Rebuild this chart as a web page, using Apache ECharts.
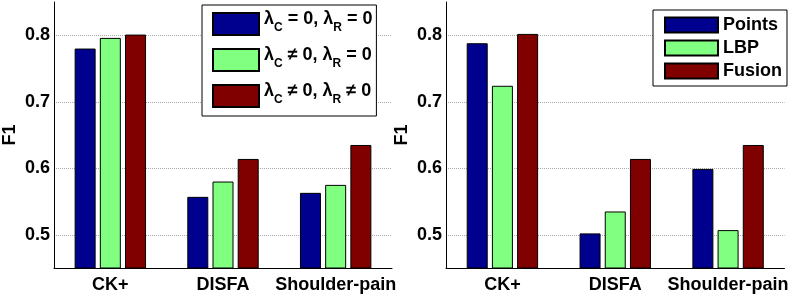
<!DOCTYPE html>
<html>
<head>
<meta charset="utf-8">
<script src="https://cdn.jsdelivr.net/npm/echarts@6/dist/echarts.min.js"></script>
<style>
html, body { margin: 0; padding: 0; background: #fff; }
#chart { width: 791px; height: 294px; }
</style>
</head>
<body>
<div id="chart"></div>
<script>
// data
var categories = ['CK+', 'DISFA', 'Shoulder-pain'];
var yTicks = [0.5, 0.6, 0.7, 0.8];

// left panel: regularisation settings
var leftNames = ['lc0_lr0', 'lcN_lr0', 'lcN_lrN'];
var regNone = [0.780, 0.557, 0.563];
var regC = [0.796, 0.580, 0.575];
var regBoth = [0.801, 0.614, 0.635];

// right panel: feature types
var rightNames = ['Points', 'LBP', 'Fusion'];
var points = [0.788, 0.502, 0.599];
var lbp = [0.724, 0.535, 0.507];
var fusion = [0.802, 0.614, 0.635];

var colors = ['#00008f', '#80ff80', '#800000'];
var font = "'Liberation Sans', Arial, sans-serif";

// legend texts with subscripts
var leftLabels = {
    lc0_lr0: '{m|\u03bb}{s|C}{m| = 0, \u03bb}{s|R}{m| = 0}',
    lcN_lr0: '{m|\u03bb}{s|C}{m| \u2260 0, \u03bb}{s|R}{m| = 0}',
    lcN_lrN: '{m|\u03bb}{s|C}{m| \u2260 0, \u03bb}{s|R}{m| \u2260 0}'
};

function xAxisFor(idx) {
    return {
        type: 'category',
        gridIndex: idx,
        data: categories,
        axisLine: { lineStyle: { color: '#000', width: 1 } },
        axisTick: { show: false },
        axisLabel: { interval: 0, hideOverlap: false, fontSize: 18, fontWeight: 'bold', color: '#000', margin: 8, fontFamily: font }
    };
}

function yAxisFor(idx) {
    return {
        type: 'value',
        gridIndex: idx,
        min: 0.45,
        max: 0.85,
        name: 'F1',
        nameLocation: 'middle',
        nameGap: 35,
        nameRotate: 90,
        nameTextStyle: { fontSize: 18, fontWeight: 'bold', color: '#000', fontFamily: font },
        axisLine: { show: true, lineStyle: { color: '#000', width: 1 } },
        axisTick: { show: false, customValues: yTicks },
        axisLabel: {
            customValues: yTicks,
            fontSize: 18, fontWeight: 'bold', color: '#000', margin: 4, fontFamily: font,
            formatter: function (v) { return v.toFixed(1); }
        },
        splitLine: { show: true, lineStyle: { color: '#aaa', type: 'dotted', width: 1 } }
    };
}

function bar(name, data, idx, color) {
    return {
        name: name,
        type: 'bar',
        xAxisIndex: idx,
        yAxisIndex: idx,
        data: data,
        barWidth: 21,
        barGap: '20%',
        itemStyle: { color: color, borderColor: '#000', borderWidth: 1 }
    };
}

var myChart = echarts.init(document.getElementById('chart'));

var option = {
    animation: false,
    textStyle: { fontFamily: font },
    grid: [
        { left: 49, top: 2, width: 343, height: 267 },
        { left: 446, top: 2, width: 342, height: 267 }
    ],
    xAxis: [xAxisFor(0), xAxisFor(1)],
    yAxis: [yAxisFor(0), yAxisFor(1)],
    legend: [
        {
            data: leftNames,
            orient: 'vertical',
            left: 202,
            top: 5,
            padding: [5, 4, 6, 10],
            itemWidth: 46,
            itemHeight: 22,
            itemGap: 8,
            icon: 'rect',
            selectedMode: false,
            borderColor: '#000',
            borderWidth: 1,
            backgroundColor: '#fff',
            formatter: function (name) { return leftLabels[name]; },
            textStyle: {
                rich: {
                    m: { fontSize: 18, fontWeight: 'bold', color: '#000', fontFamily: font,
                         lineHeight: 12, padding: [0, 0, 10, 0] },
                    s: { fontSize: 12, fontWeight: 'bold', color: '#000', fontFamily: font,
                         lineHeight: 10, padding: [10, 0, 2, 0] }
                }
            }
        },
        {
            data: rightNames,
            orient: 'vertical',
            left: 653,
            top: 10,
            padding: [6, 5, 6, 11],
            itemWidth: 53,
            itemHeight: 15,
            itemGap: 5,
            icon: 'rect',
            selectedMode: false,
            borderColor: '#000',
            borderWidth: 1,
            backgroundColor: '#fff',
            textStyle: { fontSize: 18, fontWeight: 'bold', color: '#000', fontFamily: font, lineHeight: 15 }
        }
    ],
    series: [
        bar('lc0_lr0', regNone, 0, colors[0]),
        bar('lcN_lr0', regC, 0, colors[1]),
        bar('lcN_lrN', regBoth, 0, colors[2]),
        bar('Points', points, 1, colors[0]),
        bar('LBP', lbp, 1, colors[1]),
        bar('Fusion', fusion, 1, colors[2])
    ]
};

myChart.setOption(option);
</script>
</body>
</html>
